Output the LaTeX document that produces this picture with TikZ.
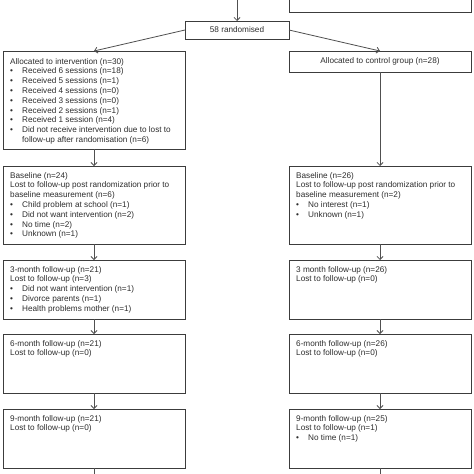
\documentclass[tikz,border=0pt]{standalone}
\usepackage{fontspec}
\setmainfont{Liberation Sans}
\usetikzlibrary{arrows.meta,positioning,calc}
\definecolor{frame}{RGB}{60,60,60}
\definecolor{wire}{RGB}{80,80,80}
\definecolor{ink}{RGB}{45,45,45}
\newcommand{\bul}{\makebox[12pt][l]{\textbullet}}
\newcommand{\ind}{\hspace*{12pt}}

\begin{document}
\begin{tikzpicture}[x=1pt,y=-1pt,
    box/.style={draw=frame,line width=0.9pt,anchor=north west,inner sep=0pt,outer sep=0pt,minimum width=182pt,text=ink,font=\fontsize{8.2}{9.8}\selectfont},
    txt/.style={anchor=north west,inner sep=0pt,align=left,text=ink,font=\fontsize{8.2}{9.8}\selectfont},
    arr/.style={wire,line width=0.8pt,-{Straight Barb[length=3pt,width=6pt]}},
    link/.style={wire,line width=0.8pt}]
    \useasboundingbox (0,0) rectangle (474,474);
    \coordinate (top) at (237,-2);
    \node[box,minimum height=40pt] (excl) at (289,-28) {};
    \node[box,minimum width=104pt,minimum height=18pt] (rand) at (185,21) {58 randomised};
    \node[box,minimum height=98pt] (alloc) at (3,51) {};
    \node[box,minimum height=21pt] (ctrl) at (289,51) {Allocated to control group (n=28)};
    \node[box,minimum height=78pt] (base-l) at (3,166) {};
    \node[box,minimum height=78pt] (base-r) at (289,166) {};
    \node[box,minimum height=59pt] (three-l) at (3,260) {};
    \node[box,minimum height=59pt] (three-r) at (289,260) {};
    \node[box,minimum height=59pt] (six-l) at (3,334) {};
    \node[box,minimum height=59pt] (six-r) at (289,334) {};
    \node[box,minimum height=59pt] (nine-l) at (3,409) {};
    \node[box,minimum height=59pt] (nine-r) at (289,409) {};
    \coordinate (end-l) at (94,476);
    \coordinate (end-r) at (380,476);

    \node[txt] (alloc-t) at ($(alloc.north west)+(7,7)$) {Allocated to intervention (n=30)\\
      \bul Received 6 sessions (n=18)\\
      \bul Received 5 sessions (n=1)\\
      \bul Received 4 sessions (n=0)\\
      \bul Received 3 sessions (n=0)\\
      \bul Received 2 sessions (n=1)\\
      \bul Received 1 session (n=4)\\
      \bul Did not receive intervention due to lost to\\
      \ind follow-up after randomisation (n=6)};
    \node[txt] (base-lt) at ($(base-l.north west)+(7,6)$) {Baseline (n=24)\\
      Lost to follow-up post randomization prior to\\
      baseline measurement (n=6)\\
      \bul Child problem at school (n=1)\\
      \bul Did not want intervention (n=2)\\
      \bul No time (n=2)\\
      \bul Unknown (n=1)};
    \node[txt] (base-rt) at ($(base-r.north west)+(7,6)$) {Baseline (n=26)\\
      Lost to follow-up post randomization prior to\\
      baseline measurement (n=2)\\
      \bul No interest (n=1)\\
      \bul Unknown (n=1)};
    \node[txt] (three-lt) at ($(three-l.north west)+(7,6)$) {3-month follow-up (n=21)\\
      Lost to follow-up (n=3)\\
      \bul Did not want intervention (n=1)\\
      \bul Divorce parents (n=1)\\
      \bul Health problems mother (n=1)};
    \node[txt] (three-rt) at ($(three-r.north west)+(7,6)$) {3 month follow-up (n=26)\\
      Lost to follow-up (n=0)};
    \node[txt] (six-lt) at ($(six-l.north west)+(7,6)$) {6-month follow-up (n=21)\\
      Lost to follow-up (n=0)};
    \node[txt] (six-rt) at ($(six-r.north west)+(7,6)$) {6-month follow-up (n=26)\\
      Lost to follow-up (n=0)};
    \node[txt] (nine-lt) at ($(nine-l.north west)+(7,6)$) {9-month follow-up (n=21)\\
      Lost to follow-up (n=0)};
    \node[txt] (nine-rt) at ($(nine-r.north west)+(7,6)$) {9-month follow-up (n=25)\\
      Lost to follow-up (n=1)\\
      \bul No time (n=1)};

    \draw[arr] (top) -- (rand.north);
    \draw[arr] (rand.west) -- (alloc.north);
    \draw[arr] (rand.east) -- (ctrl.north);
    \draw[arr] (alloc.south) -- (base-l.north);
    \draw[arr] (ctrl.south) -- (base-r.north);
    \draw[arr] (base-l.south) -- (three-l.north);
    \draw[arr] (base-r.south) -- (three-r.north);
    \draw[arr] (three-l.south) -- (six-l.north);
    \draw[arr] (three-r.south) -- (six-r.north);
    \draw[arr] (six-l.south) -- (nine-l.north);
    \draw[arr] (six-r.south) -- (nine-r.north);
    \draw[link] (nine-l.south) -- (end-l);
    \draw[link] (nine-r.south) -- (end-r);
\end{tikzpicture}
\end{document}
